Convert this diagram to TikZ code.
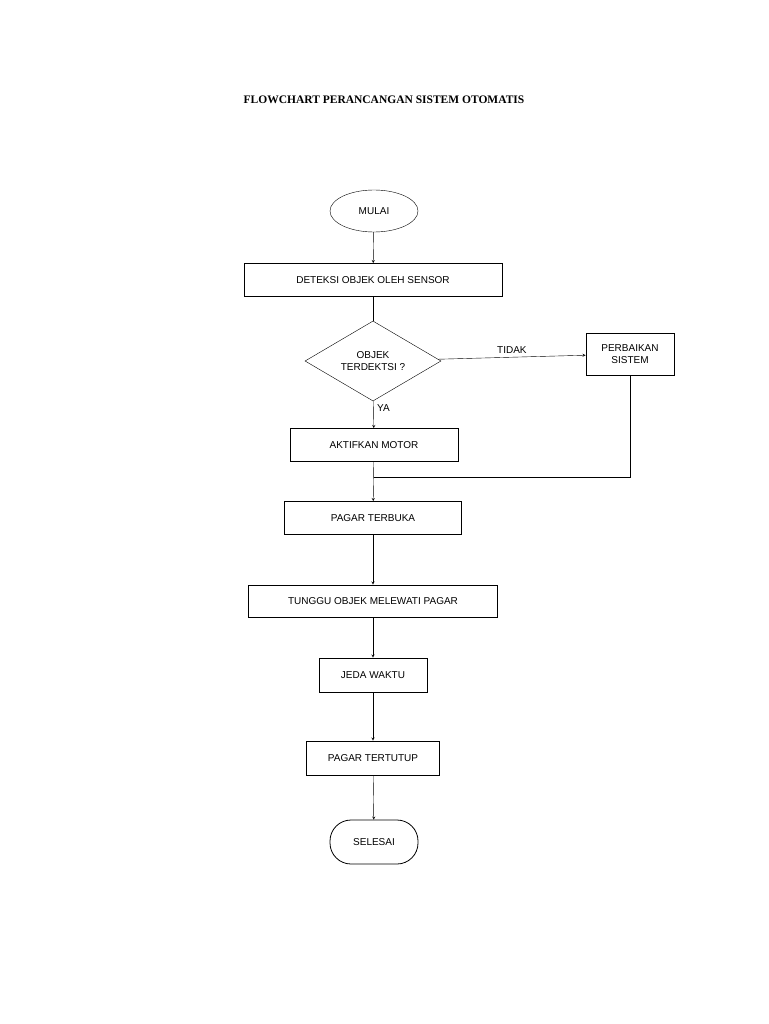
\documentclass[tikz,border=0pt]{standalone}
\usepackage{fontspec}
\setmainfont{Liberation Sans}
\newfontfamily\titlefont{Liberation Serif}
\usetikzlibrary{positioning,shapes.geometric}
\tikzset{
	box/.style={draw,thick,rectangle,minimum height=33pt,inner sep=0pt,font=\fontsize{10}{12}\selectfont},
	term/.style={draw,ellipse,minimum width=88pt,minimum height=42pt,inner sep=0pt,font=\fontsize{10}{12}\selectfont},
	flow/.style={->,>=stealth},
	lbl/.style={font=\fontsize{10}{12}\selectfont}
}
\begin{document}
\begin{tikzpicture}[x=1pt,y=-1pt]
	\useasboundingbox (0,0) rectangle (768,1024);
	\node[font=\titlefont\bfseries\fontsize{11.5}{14}\selectfont] (title) at (384,100) {FLOWCHART PERANCANGAN SISTEM OTOMATIS};

	\node[term] (mulai) at (374,211) {MULAI};
	\node[box,minimum width=258pt] (deteksi) at (373,280) {DETEKSI OBJEK OLEH SENSOR};
	\node[draw,diamond,aspect=1.7,minimum width=136pt,minimum height=80pt,inner sep=0pt,lbl,align=center] (cek) at (373,361) {OBJEK\\TERDEKTSI ?};
	\node[box,minimum width=88pt,minimum height=42pt,align=center] (perbaikan) at (630,354) {PERBAIKAN\\SISTEM};
	\node[box,minimum width=168pt] (motor) at (374,445) {AKTIFKAN MOTOR};
	\node[box,minimum width=177pt] (buka) at (373,518) {PAGAR TERBUKA};
	\node[box,minimum width=249pt,minimum height=32pt] (tunggu) at (373,601) {TUNGGU OBJEK MELEWATI PAGAR};
	\node[box,minimum width=108pt,minimum height=34pt] (jeda) at (373,675) {JEDA WAKTU};
	\node[box,minimum width=133pt,minimum height=34pt] (tutup) at (373,758) {PAGAR TERTUTUP};
	\node[draw,thick,rectangle,rounded corners=21pt,minimum width=88pt,minimum height=44pt,lbl] (selesai) at (374,842) {SELESAI};
	\coordinate (gabung) at (374,477);

	\draw[flow] (mulai) -- (deteksi);
	\draw (deteksi) -- (cek);
	\draw[flow] (cek) -- node[lbl,above,pos=0.5] {TIDAK} (perbaikan);
	\draw[flow] (cek) -- node[lbl,right,pos=0.25] {YA} (motor);
	\draw (perbaikan) |- (gabung);
	\draw[flow] (motor) -- (buka);
	\draw[flow] (buka) -- (tunggu);
	\draw[flow] (tunggu) -- (jeda);
	\draw[flow] (jeda) -- (tutup);
	\draw[flow] (tutup) -- (selesai);
\end{tikzpicture}
\end{document}
